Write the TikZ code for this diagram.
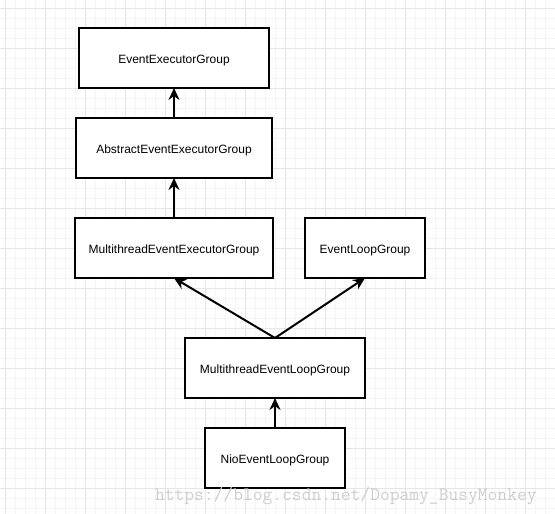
\documentclass[tikz,border=0pt]{standalone}
\usepackage{fontspec}
\setmainfont{Liberation Sans}
\usetikzlibrary{arrows.meta,positioning}

\definecolor{gridmajor}{RGB}{229,229,229}
\definecolor{gridminor}{RGB}{245,245,245}
\definecolor{markgray}{RGB}{205,205,205}

\begin{document}
\begin{tikzpicture}[->,>={Stealth[length=12pt,width=11pt,inset=4pt]},line width=2pt,
										node distance=30pt]
	\tikzstyle{classbox}=[draw=black,fill=white,line width=2pt,minimum height=60pt,
										inner sep=0pt,outer sep=0pt,text height=12pt,text depth=1pt,
										font=\fontsize{12pt}{14pt}\selectfont]
	\tikzstyle{minorline}=[-,draw=gridminor,line width=1pt]
	\tikzstyle{majorline}=[-,draw=gridmajor,line width=1pt]

	\useasboundingbox (0,0) rectangle (555pt,-514pt);
	% grid
	\foreach \x in {5,15,...,555} \draw[minorline] (\x pt,0) -- (\x pt,-514pt);
	\foreach \y in {8,18,...,514} \draw[minorline] (0,-\y pt) -- (555pt,-\y pt);
	\foreach \x in {5,45,...,555} \draw[majorline] (\x pt,0) -- (\x pt,-514pt);
	\foreach \y in {8,48,...,514} \draw[majorline] (0,-\y pt) -- (555pt,-\y pt);

	\node[classbox,minimum width=140pt] (nelg) at (275pt,-458pt) {NioEventLoopGroup};
	\node[classbox,minimum width=180pt] (melg) [above=of nelg] {MultithreadEventLoopGroup};
	\node[classbox,minimum width=198pt] (meeg) [above=60pt of melg,xshift=-101pt] {MultithreadEventExecutorGroup};
	\node[classbox,minimum width=120pt] (elg)  [above=60pt of melg,xshift=90pt] {EventLoopGroup};
	\node[classbox,minimum width=196pt] (aeeg) [above=40pt of meeg] {AbstractEventExecutorGroup};
	\node[classbox,minimum width=190pt] (eeg)  [above=of aeeg] {EventExecutorGroup};

	\draw (nelg) -- (melg);
	\draw (melg.north) -- (meeg.south);
	\draw (melg.north) -- (elg.south);
	\draw (meeg) -- (aeeg);
	\draw (aeeg) -- (eeg);

	\node[anchor=base west,inner sep=0pt,text=markgray,font=\ttfamily\fontsize{19pt}{20pt}\selectfont]
		(mark) at (154pt,-500pt) {https://blog.csdn.net/Dopamy\_BusyMonkey};
\end{tikzpicture}
\end{document}
